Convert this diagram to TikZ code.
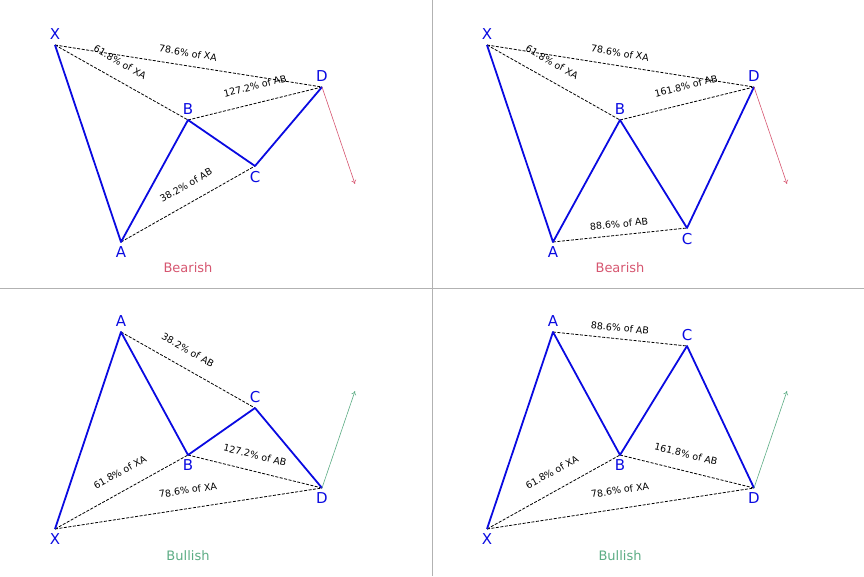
\documentclass[tikz,border=0pt]{standalone}
\usepackage{fontspec}
\usetikzlibrary{arrows.meta}
\setmainfont{DejaVu Sans}
\definecolor{bear}{RGB}{214,86,112}
\definecolor{bull}{RGB}{92,172,132}
\definecolor{leg}{RGB}{10,10,225}
\begin{document}
\begin{tikzpicture}[x=1pt, y=1pt,
    legline/.style={leg, line width=1.8pt, line join=round},
    ratio/.style={black, line width=0.8pt, dash pattern=on 3pt off 1.5pt},
    pct/.style={font=\fontsize{9.5}{10}\selectfont, inner sep=0pt},
    ltr/.style={text=leg, font=\fontsize{15}{15}\selectfont, label distance=1.5pt},
    ttl/.style={font=\fontsize{13}{13}\selectfont},
    trend/.style={line width=0.6pt, -{To[length=4pt, width=5pt]}},
    divider/.style={gray!60, line width=0.8pt}]
            \useasboundingbox (0,0) rectangle (864,576);
            \draw[divider] (432,0) -- (432,576);
            \draw[divider] (0,288) -- (864,288);

            % top left
            \coordinate[label={[ltr]above:X}] (tlX) at (55,531);
            \coordinate[label={[ltr]below:A}] (tlA) at (121,334);
            \coordinate[label={[ltr]above:B}] (tlB) at (188,456);
            \coordinate[label={[ltr]below:C}] (tlC) at (255,410);
            \coordinate[label={[ltr]above:D}] (tlD) at (322,489);
            \coordinate (tlE) at (355,392);
            \draw[ratio] (tlX) -- (tlB);
            \draw[ratio] (tlX) -- (tlD);
            \draw[ratio] (tlB) -- (tlD);
            \draw[ratio] (tlA) -- (tlC);
            \draw[legline] (tlX) -- (tlA) -- (tlB) -- (tlC) -- (tlD);
            \draw[bear, trend] (tlD) -- (tlE);
            \node[pct, rotate=-29.4] (tlXBl) at (120,514) {61.8\% of XA};
            \node[pct, rotate=-8.9] (tlXDl) at (188,523) {78.6\% of XA};
            \node[pct, rotate=13.8] (tlBDl) at (255,490) {127.2\% of AB};
            \node[pct, rotate=29.6] (tlACl) at (186,391) {38.2\% of AB};
            \node[ttl, text=bear] (tlT) at (188,308) {Bearish};

            % top right
            \coordinate[label={[ltr]above:X}] (trX) at (487,531);
            \coordinate[label={[ltr]below:A}] (trA) at (553,334);
            \coordinate[label={[ltr]above:B}] (trB) at (620,456);
            \coordinate[label={[ltr]below:C}] (trC) at (687,348);
            \coordinate[label={[ltr]above:D}] (trD) at (754,489);
            \coordinate (trE) at (787,392);
            \draw[ratio] (trX) -- (trB);
            \draw[ratio] (trX) -- (trD);
            \draw[ratio] (trB) -- (trD);
            \draw[ratio] (trA) -- (trC);
            \draw[legline] (trX) -- (trA) -- (trB) -- (trC) -- (trD);
            \draw[bear, trend] (trD) -- (trE);
            \node[pct, rotate=-29.4] (trXBl) at (552,514) {61.8\% of XA};
            \node[pct, rotate=-8.9] (trXDl) at (620,523) {78.6\% of XA};
            \node[pct, rotate=13.8] (trBDl) at (686,490) {161.8\% of AB};
            \node[pct, rotate=6.0] (trACl) at (619,352) {88.6\% of AB};
            \node[ttl, text=bear] (trT) at (620,308) {Bearish};

            % bottom left
            \coordinate[label={[ltr]below:X}] (blX) at (55,47);
            \coordinate[label={[ltr]above:A}] (blA) at (121,244);
            \coordinate[label={[ltr]below:B}] (blB) at (188,121);
            \coordinate[label={[ltr]above:C}] (blC) at (255,168);
            \coordinate[label={[ltr]below:D}] (blD) at (322,88);
            \coordinate (blE) at (355,185);
            \draw[ratio] (blX) -- (blB);
            \draw[ratio] (blX) -- (blD);
            \draw[ratio] (blB) -- (blD);
            \draw[ratio] (blA) -- (blC);
            \draw[legline] (blX) -- (blA) -- (blB) -- (blC) -- (blD);
            \draw[bull, trend] (blD) -- (blE);
            \node[pct, rotate=29.1] (blXBl) at (120,104) {61.8\% of XA};
            \node[pct, rotate=8.7] (blXDl) at (188,86) {78.6\% of XA};
            \node[pct, rotate=-13.8] (blBDl) at (255,121) {127.2\% of AB};
            \node[pct, rotate=-29.6] (blACl) at (188,226) {38.2\% of AB};
            \node[ttl, text=bull] (blT) at (188,20) {Bullish};

            % bottom right
            \coordinate[label={[ltr]below:X}] (brX) at (487,47);
            \coordinate[label={[ltr]above:A}] (brA) at (553,244);
            \coordinate[label={[ltr]below:B}] (brB) at (620,121);
            \coordinate[label={[ltr]above:C}] (brC) at (687,230);
            \coordinate[label={[ltr]below:D}] (brD) at (754,88);
            \coordinate (brE) at (787,185);
            \draw[ratio] (brX) -- (brB);
            \draw[ratio] (brX) -- (brD);
            \draw[ratio] (brB) -- (brD);
            \draw[ratio] (brA) -- (brC);
            \draw[legline] (brX) -- (brA) -- (brB) -- (brC) -- (brD);
            \draw[bull, trend] (brD) -- (brE);
            \node[pct, rotate=29.1] (brXBl) at (552,104) {61.8\% of XA};
            \node[pct, rotate=8.7] (brXDl) at (620,86) {78.6\% of XA};
            \node[pct, rotate=-13.8] (brBDl) at (686,122) {161.8\% of AB};
            \node[pct, rotate=-6.0] (brACl) at (620,248) {88.6\% of AB};
            \node[ttl, text=bull] (brT) at (620,20) {Bullish};
        \end{tikzpicture}
\end{document}
